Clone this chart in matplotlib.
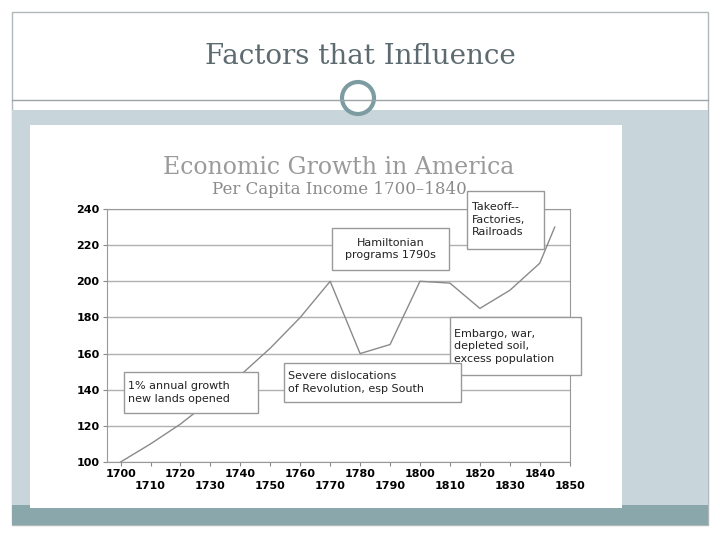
import matplotlib
matplotlib.use("Agg")
import matplotlib.pyplot as plt
from matplotlib.patches import Rectangle, Ellipse

years = [1700, 1710, 1720, 1730, 1740, 1750, 1760, 1770, 1780, 1790, 1800, 1810, 1820, 1830, 1840, 1845]
income = [100, 110, 121, 134, 148, 163, 180, 200, 160, 165, 200, 199, 185, 195, 210, 230]
yticks = [100, 120, 140, 160, 180, 200, 220, 240]
xticks = list(range(1700, 1851, 10))

W, H = 720, 540
fig = plt.figure(figsize=(7.2, 5.4), dpi=100)
fig.patch.set_facecolor("white")

def px(x, y):
    return x / W, 1 - y / H

def frect(x0, y0, x1, y1, **kw):
    fig.patches.append(Rectangle(px(x0, y1), (x1 - x0) / W, (y1 - y0) / H,
                                 transform=fig.transFigure, **kw))

# slide decorations
frect(12, 12, 708, 525, facecolor="none", edgecolor="#b0b8bb", lw=1)
frect(12, 110, 708, 505, facecolor="#c8d5db", edgecolor="none")
frect(12, 505, 708, 525, facecolor="#8aa7ac", edgecolor="none")
frect(30, 125, 622, 508, facecolor="white", edgecolor="none")
fig.lines.append(plt.Line2D([12 / W, 708 / W], [1 - 100 / H] * 2, transform=fig.transFigure, color="#9aa5a8", lw=1))
fig.patches.append(Ellipse(px(358, 98), 32 / W, 32 / H, transform=fig.transFigure,
                           facecolor="white", edgecolor="#7d9ca2", lw=3))
fig.text(*px(360, 57), "Factors that Influence", ha="center", va="center",
         fontsize=20, family="DejaVu Serif", color="#5d6b70")

fig.text(*px(339, 168), "Economic Growth in America", ha="center", va="center",
         fontsize=17, family="DejaVu Serif", color="#9a9a9a")
fig.text(*px(339, 190), "Per Capita Income 1700\u20131840", ha="center", va="center",
         fontsize=12, family="DejaVu Serif", color="#8a8a8a")

l, r, t, b = 106.5, 570, 209, 462
ax = fig.add_axes([l / W, 1 - b / H, (r - l) / W, (b - t) / H])
ax.set_zorder(5)
ax.set_facecolor("white")
ax.plot(years, income, color="#8a8a8a", lw=1)
ax.set_xlim(1695.3, 1850.1)
ax.set_ylim(100, 240)
ax.set_yticks(yticks)
ax.set_yticklabels([str(v) for v in yticks], fontsize=8, fontweight="bold")
ax.set_xticks(xticks)
ax.set_xticklabels([f"{v}\n" if i % 2 == 0 else f"\n{v}" for i, v in enumerate(xticks)],
                   fontsize=8, fontweight="bold", linespacing=1.3)
ax.tick_params(length=3, color="#888888", pad=2)
ax.grid(axis="y", color="#b0b0b0", lw=1)
for s in ax.spines.values():
    s.set_color("#999999")

def box(x0, y0, x1, y1, text, ha="left"):
    ax.add_patch(Rectangle((x0, y0), x1 - x0, y1 - y0, facecolor="white",
                           edgecolor="#999999", lw=1, clip_on=False, zorder=3))
    tx = x0 + 1.5 if ha == "left" else (x0 + x1) / 2
    ax.text(tx, (y0 + y1) / 2, text, ha=ha, va="center", fontsize=8,
            color="#222222", zorder=4, clip_on=False, linespacing=1.3)

box(1701, 127, 1746, 150, "1% annual growth\nnew lands opened")
box(1770.6, 206, 1809.8, 229.5, "Hamiltonian\nprograms 1790s", ha="center")
box(1815.8, 218, 1841.5, 250, "Takeoff--\nFactories,\nRailroads")
box(1810, 148, 1853.7, 180, "Embargo, war,\ndepleted soil,\nexcess population")
box(1754.5, 133, 1813.6, 155, "Severe dislocations\nof Revolution, esp South")

fig.savefig("out.png", dpi=100)
